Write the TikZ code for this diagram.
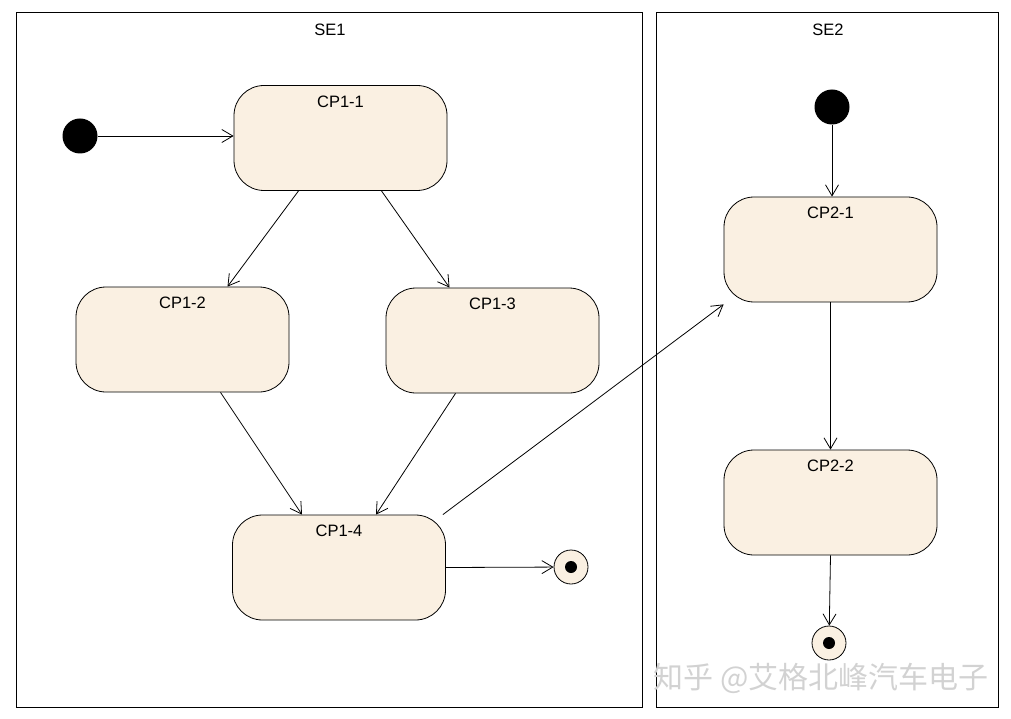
\documentclass[tikz,border=0pt]{standalone}
\usepackage{fontspec}
\setmainfont{Liberation Sans}
\newfontfamily\cjk{Noto Sans CJK SC}
\usetikzlibrary{arrows.meta}
\definecolor{stfill}{HTML}{FAF0E2}
\begin{document}
\begin{tikzpicture}[x=1pt,y=-1pt,
  st/.style={draw,fill=stfill,rounded corners=30pt,line width=0.8pt,minimum width=213pt,minimum height=105pt,inner sep=0pt},
  lbl/.style={font=\fontsize{16.5}{19}\selectfont},
  init/.style={circle,fill=black,minimum size=35pt,inner sep=0pt},
  fin/.style={circle,draw,fill=stfill,minimum size=34pt,inner sep=0pt,line width=0.8pt},
  tr/.style={-{Straight Barb[length=11pt,width=13pt]},line width=0.8pt},
  se/.style={draw,line width=0.8pt}]
\useasboundingbox (0,0) rectangle (1011,719);
\draw[se] (16,12) rectangle (642,707);
\draw[se] (656,12) rectangle (998,707);
\node[lbl] (se1) at (330,30) {SE1};
\node[lbl] (se2) at (828,30) {SE2};
\node[st] (c11) at (340.5,138) {};
\node[st] (c12) at (182.5,339.5) {};
\node[st] (c13) at (492.5,340.5) {};
\node[st] (c14) at (339,567.5) {};
\node[st] (c21) at (830.5,249.5) {};
\node[st] (c22) at (830.5,502.5) {};
\foreach \n/\t in {c11/CP1-1,c12/CP1-2,c13/CP1-3,c14/CP1-4,c21/CP2-1,c22/CP2-2}
  \node[lbl,anchor=north] at ([yshift=-7pt]\n.north) {\t};
\node[init] (i1) at (80,136) {};
\node[init] (i2) at (832,107) {};
\node[fin] (f1) at (571,567) {};
\node[fin] (f2) at (829,643) {};
\fill (f1) circle (6pt);
\fill (f2) circle (6pt);
\draw[tr] (i1) -- (c11.west |- i1);
\draw[tr] ([xshift=-42pt]c11.south) -- ([xshift=45pt]c12.north);
\draw[tr] ([xshift=41pt]c11.south) -- ([xshift=-43pt]c13.north);
\draw[tr] ([xshift=38pt]c12.south) -- ([xshift=-37pt]c14.north);
\draw[tr] ([xshift=-37pt]c13.south) -- ([xshift=37pt]c14.north);
\draw[tr] ([xshift=-3pt]c14.north east) -- ([yshift=-2pt]c21.south west);
\draw[tr] (c14.east) -- (f1);
\draw[tr] (i2) -- (c21.north -| i2);
\draw[tr] (c21.south) -- (c22.north);
\draw[tr] (c22.south) -- (f2);
\node[font=\cjk\fontsize{30}{34}\selectfont,text=gray!35,anchor=west] (wm) at (650,678) {知乎 @艾格北峰汽车电子};
\end{tikzpicture}
\end{document}
